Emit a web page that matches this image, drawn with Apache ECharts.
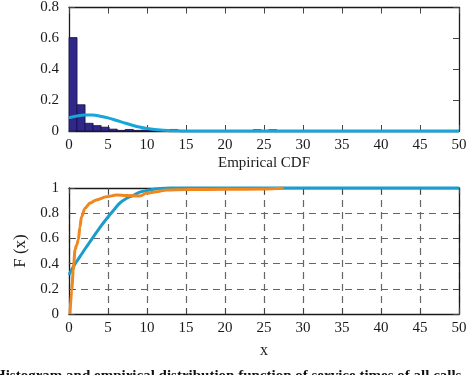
<!DOCTYPE html>
<html>
<head>
<meta charset="utf-8">
<script src="https://cdn.jsdelivr.net/npm/echarts@6/dist/echarts.min.js"></script>
<style>
  html, body { margin: 0; padding: 0; background: #fff; }
  #chart { width: 474px; height: 375px; }
</style>
</head>
<body>
<div id="chart"></div>
<script>
// histogram (top panel): bin starts and relative frequency
const binWidth = 1.03;
const histStart = [0, 1.03, 2.06, 3.09, 4.12, 5.15, 6.18, 7.21, 8.24, 9.27, 10.3, 12.9, 23.6, 25.6];
const histValue = [0.605, 0.17, 0.05, 0.035, 0.025, 0.012, 0.004, 0.01, 0.004, 0.006, 0.003, 0.01, 0.008, 0.008];

// fitted density (top panel)
const pdfX = [0, 1, 2, 3, 4, 5, 6, 7, 8, 9, 10, 11, 12, 13, 14, 15, 50];
const pdfY = [0.086, 0.097, 0.103, 0.103, 0.096, 0.085, 0.07, 0.054, 0.039, 0.026, 0.016, 0.009, 0.005, 0.002, 0.001, 0, 0];

// fitted CDF (bottom panel, blue)
const fitX = [0, 0.55, 1.4, 2.2, 3.1, 4, 5, 5.8, 6.5, 7.3, 8.2, 9, 10, 11, 11.7, 13, 50];
const fitY = [0.31, 0.375, 0.455, 0.53, 0.61, 0.69, 0.77, 0.83, 0.88, 0.915, 0.94, 0.965, 0.98, 0.992, 0.997, 1, 1];

// empirical CDF (bottom panel, orange)
const ecdfX = [0.13, 0.35, 0.55, 0.77, 1.0, 1.2, 1.4, 1.6, 2.05, 2.7, 3.5, 4.8, 6.1, 7.4, 9.1, 10, 11.2, 12.5, 15, 20, 25, 27.5];
const ecdfY = [0, 0.19, 0.35, 0.51, 0.55, 0.59, 0.69, 0.77, 0.84, 0.88, 0.905, 0.93, 0.945, 0.94, 0.937, 0.96, 0.97, 0.985, 0.988, 0.99, 0.992, 1];

const font = 'Liberation Serif';
const ink = '#1a1a1a';

const chart = echarts.init(document.getElementById('chart'));

function xAx(grid, pos, labels, split) {
  return {
    type: 'value', gridIndex: grid, position: pos, min: 0, max: 50, interval: 5,
    axisLine: { show: true, onZero: false, lineStyle: { color: ink, width: 1.3 } },
    axisTick: { show: true, inside: true, length: 6, lineStyle: { color: '#444', width: 1 } },
    axisLabel: { show: labels, color: ink, fontFamily: font, fontSize: 15, margin: 7 },
    splitLine: { show: split, lineStyle: { color: '#666', width: 1.2, type: [7, 5] } }
  };
}
function yAx(grid, pos, max, labels, split) {
  return {
    type: 'value', gridIndex: grid, position: pos, min: 0, max: max, interval: 0.2,
    axisLine: { show: true, onZero: false, lineStyle: { color: ink, width: 1.3 } },
    axisTick: { show: true, inside: true, length: 6, lineStyle: { color: '#444', width: 1 } },
    axisLabel: { show: labels, color: ink, fontFamily: font, fontSize: 15, margin: 10 },
    splitLine: { show: split, lineStyle: { color: '#666', width: 1.2, type: [7, 5] } }
  };
}

const xAxes = [
  xAx(0, 'bottom', true, false),
  xAx(0, 'top', false, false),
  Object.assign(xAx(1, 'bottom', true, true), {
    name: 'x', nameLocation: 'middle', nameGap: 29,
    nameTextStyle: { color: ink, fontFamily: font, fontSize: 16 }
  }),
  Object.assign(xAx(1, 'top', false, false), {
    name: 'Empirical CDF', nameLocation: 'middle', nameGap: 17,
    nameTextStyle: { color: ink, fontFamily: font, fontSize: 15 }
  })
];
const yAxes = [
  yAx(0, 'left', 0.8, true, false),
  yAx(0, 'right', 0.8, false, false),
  Object.assign(yAx(1, 'left', 1, true, true), {
    name: 'F (x)', nameLocation: 'middle', nameGap: 35,
    nameTextStyle: { color: ink, fontFamily: font, fontSize: 17 }
  }),
  yAx(1, 'right', 1, false, false)
];

const option = {
  animation: false,
  backgroundColor: '#fff',
  grid: [
    { left: 69, right: 15, top: 4, height: 127 },
    { left: 69, right: 15, top: 188, height: 126 }
  ],
  xAxis: xAxes,
  yAxis: yAxes,
  graphic: [{
    type: 'text', left: -6, top: 369,
    style: {
      text: 'Histogram and empirical distribution function of service times of all calls',
      fill: '#111', font: 'bold 15px "Liberation Serif"'
    }
  }],
  series: [
    {
      type: 'custom', xAxisIndex: 0, yAxisIndex: 0,
      data: histStart.map((s, i) => [s, s + binWidth, histValue[i]]),
      renderItem: (params, api) => {
        const p0 = api.coord([api.value(0), 0]);
        const p1 = api.coord([api.value(1), api.value(2)]);
        return {
          type: 'rect',
          shape: { x: p0[0], y: p1[1], width: p1[0] - p0[0], height: p0[1] - p1[1] },
          style: { fill: '#2f2789', stroke: '#16113f', lineWidth: 0.8 }
        };
      }
    },
    {
      type: 'line', xAxisIndex: 0, yAxisIndex: 0, smooth: 0.4, symbol: 'none', clip: false,
      data: pdfX.map((x, i) => [x, pdfY[i]]),
      lineStyle: { color: '#17a6da', width: 3 }
    },
    {
      type: 'line', xAxisIndex: 2, yAxisIndex: 2, smooth: 0.3, symbol: 'none', clip: false,
      data: fitX.map((x, i) => [x, fitY[i]]),
      lineStyle: { color: '#1b9dcb', width: 3 }
    },
    {
      type: 'line', xAxisIndex: 2, yAxisIndex: 2, smooth: 0.3, smoothMonotone: 'x', symbol: 'none', clip: false,
      data: ecdfX.map((x, i) => [x, ecdfY[i]]),
      lineStyle: { color: '#ef861e', width: 3 }
    }
  ]
};

chart.setOption(option);
</script>
</body>
</html>
